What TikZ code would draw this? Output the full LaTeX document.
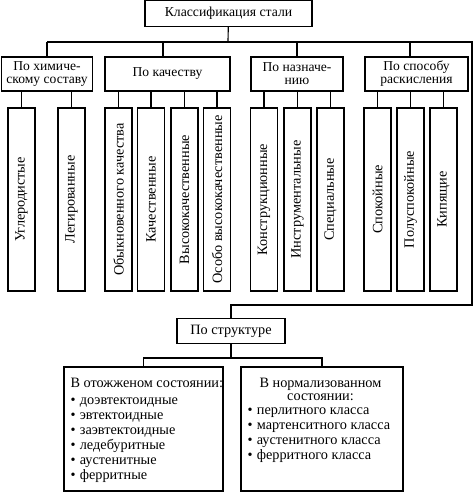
\documentclass[tikz,border=0pt]{standalone}
\usepackage{fontspec}
\setmainfont{Liberation Serif}
\newcommand{\steelstrut}{\rule{0pt}{7pt}}

\begin{document}
\begin{tikzpicture}[
  x=0.7pt, y=-0.7pt,
  line width=0.8pt,
  every node/.style={font=\fontsize{10}{9}\selectfont, inner sep=0pt},
  title/.style={rectangle, draw=black, minimum height=17.9pt},
  group/.style={rectangle, draw=black, align=center, minimum height=23.8pt, font=\fontsize{9.5}{9}\selectfont},
  leaf/.style={rectangle, draw=black, rotate=90, minimum width=128.1pt, minimum height=18.9pt},
  listbox/.style={rectangle, draw=black, minimum height=86.8pt},
  listtext/.style={align=left, font=\fontsize{10}{10.5}\selectfont},
  link/.style={-, line width=0.8pt},
]
\useasboundingbox (0,0) rectangle (474,492);

% ---- root ----
\node[title, minimum width=116.9pt, font=\fontsize{9.6}{9}\selectfont] (steel) at (228.5, 13.5) {Классификация стали};

% ---- level 1: criteria ----
\node[group, minimum width=63.7pt] (chem) at (47, 74)    {По химиче-\\скому составу};
\node[group, minimum width=87.5pt] (qual) at (167.5, 74) {По качеству};
\node[group, minimum width=64.4pt] (purp) at (297, 74)   {По назначе-\\нию};
\node[group, minimum width=72.1pt] (deox) at (416.5, 74) {По способу\\раскисления};

% ---- level 2: kinds of steel ----
\node[leaf] (carbon)  at (21.5, 199.5)  {Углеродистые};
\node[leaf] (alloy)   at (71.5, 199.5)  {Легированные};
\node[leaf] (common)  at (118.5, 199.5) {Обыкновенного качества};
\node[leaf] (quality) at (151, 199.5)   {Качественные};
\node[leaf] (high)    at (184.5, 199.5) {Высококачественные};
\node[leaf] (extra)   at (217, 199.5)   {Особо высококачественные};
\node[leaf] (constr)  at (264, 199.5)   {Конструкционные};
\node[leaf] (tool)    at (297.5, 199.5) {Инструментальные};
\node[leaf] (special) at (330.5, 199.5) {Специальные};
\node[leaf] (killed)  at (377.5, 199.5) {Спокойные};
\node[leaf] (semi)    at (410.5, 199.5) {Полуспокойные};
\node[leaf] (rimmed)  at (443.5, 199.5) {Кипящие};

% ---- structure ----
\node[title, minimum width=75.6pt] (struct) at (231, 331) {По структуре};

\node[listbox, minimum width=111.3pt] (annealed) at (143.5, 429) {};
\node[listbox, minimum width=113.4pt] (normal)   at (322, 429)   {};

\node[listtext, anchor=north west] (annealedtext) at (70, 377) {%
  \steelstrut В отожженом состоянии:\\[1.4pt]
  \textbullet\hspace{3pt}доэвтектоидные\\
  \textbullet\hspace{3pt}эвтектоидные\\
  \textbullet\hspace{3pt}заэвтектоидные\\
  \textbullet\hspace{3pt}ледебуритные\\
  \textbullet\hspace{3pt}аустенитные\\
  \textbullet\hspace{3pt}ферритные};
\node[align=center, anchor=north] (normalhead) at (320.5, 377)
  {\steelstrut В нормализованном\\состоянии:};
\node[listtext, anchor=north west] (normaltext) at (247, 404) {%
  \steelstrut\textbullet\hspace{3pt}перлитного класса\\
  \textbullet\hspace{3pt}мартенситного класса\\
  \textbullet\hspace{3pt}аустенитного класса\\
  \textbullet\hspace{3pt}ферритного класса};

% ---- root to criteria ----
\coordinate (bus)    at (228, 42);
\coordinate (busend) at (472, 42);
\coordinate (turn)   at (472, 305);
\coordinate (qualtop) at ([xshift=-3.15pt]qual.north);
\coordinate (deoxtop) at ([xshift=-4.55pt]deox.north);
\draw[link] (steel) -- (bus);
\draw[link] (chem.north |- bus) -- (busend) -- (turn) -| (struct);
\draw[link] (chem.north |- bus) -- (chem);
\draw[link] (qualtop |- bus) -- (qualtop);
\draw[link] (purp.north |- bus) -- (purp);
\draw[link] (deoxtop |- bus) -- (deoxtop);

% ---- criteria to kinds ----
\draw[link] (chem.south -| carbon) -- (carbon);
\draw[link] (chem.south -| alloy) -- (alloy);
\draw[link] (qual.south -| common) -- (common);
\draw[link] (qual.south -| quality) -- (quality);
\draw[link] (qual.south -| high) -- (high);
\draw[link] (qual.south -| extra) -- (extra);
\draw[link] (purp.south -| constr) -- (constr);
\draw[link] (purp.south -| tool) -- (tool);
\draw[link] (purp.south -| special) -- (special);
\draw[link] (deox.south -| killed) -- (killed);
\draw[link] (deox.south -| semi) -- (semi);
\draw[link] (deox.south -| rimmed) -- (rimmed);

% ---- structure to states ----
\coordinate (fork) at (231, 358);
\draw[link] (struct) -- (fork);
\draw[link] (annealed) |- (fork) -| (normal);

\end{tikzpicture}
\end{document}
